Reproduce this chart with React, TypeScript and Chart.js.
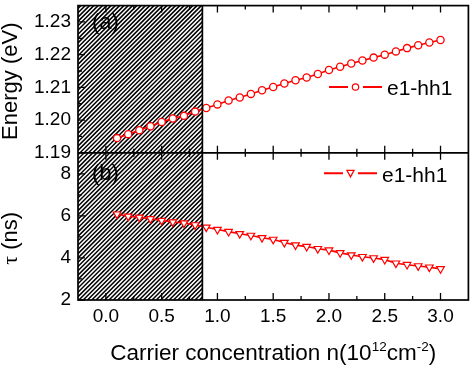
import React, { useEffect, useRef } from 'react';
import { Chart, registerables } from 'chart.js';

Chart.register(...registerables);

// ---- data ----
const carrierN = [0.1, 0.2, 0.3, 0.4, 0.5, 0.6, 0.7, 0.8, 0.9, 1.0, 1.1, 1.2, 1.3, 1.4, 1.5, 1.6, 1.7, 1.8, 1.9, 2.0, 2.1, 2.2, 2.3, 2.4, 2.5, 2.6, 2.7, 2.8, 2.9, 3.0];
const energyE1HH1 = [1.1945, 1.1957, 1.1969, 1.1981, 1.1994, 1.2005, 1.2013, 1.2026, 1.2037, 1.2048, 1.2060, 1.2069, 1.2080, 1.2091, 1.2101, 1.2112, 1.2122, 1.2130, 1.2141, 1.2153, 1.2163, 1.2173, 1.2182, 1.2191, 1.2200, 1.2210, 1.2220, 1.2229, 1.2237, 1.2245];
const tauE1HH1 = [6.08, 5.98, 5.93, 5.86, 5.78, 5.71, 5.66, 5.57, 5.46, 5.35, 5.25, 5.15, 5.07, 4.96, 4.88, 4.73, 4.61, 4.54, 4.44, 4.37, 4.24, 4.14, 4.06, 4.00, 3.92, 3.75, 3.68, 3.62, 3.56, 3.48];

const xMajorTicks = [0, 0.5, 1.0, 1.5, 2.0, 2.5, 3.0];
const xMinorTicks = [0.25, 0.75, 1.25, 1.75, 2.25, 2.75];
const energyTicks = [1.19, 1.2, 1.21, 1.22, 1.23];
const energyMinorTicks = [1.195, 1.205, 1.215, 1.225];
const tauTicks = [2, 4, 6, 8];
const tauMinorTicks = [3, 5, 7];

const xRange = [-0.25, 3.25];
const energyRange = [1.19, 1.235];
const tauRange = [2, 9];
const shadedUntil = 0.865;

const seriesLabel = 'e1-hh1';
const RED = 'rgb(255,0,0)';
const SANS = "'Liberation Sans', Arial, Helvetica, sans-serif";

const zeroPad = (s: any) => {
  s.paddingTop = 0;
  s.paddingBottom = 0;
  s.paddingLeft = 0;
  s.paddingRight = 0;
};

const decorPlugin = {
  id: 'decor',
  beforeDatasetsDraw(chart: any) {
    const { ctx, chartArea } = chart;
    const xs = chart.scales.x;
    const hx = xs.getPixelForValue(shadedUntil);
    const { left, top, bottom } = chartArea;
    ctx.save();
    ctx.beginPath();
    ctx.rect(left, top, hx - left, bottom - top);
    ctx.clip();
    ctx.strokeStyle = '#000';
    ctx.lineWidth = 1.5;
    const step = 4.3;
    ctx.beginPath();
    for (let c = left + top - 10; c <= hx + bottom + 10; c += step) {
      ctx.moveTo(c - bottom, bottom);
      ctx.lineTo(c - top, top);
    }
    ctx.stroke();
    ctx.restore();
  },
  afterDraw(chart: any) {
    const { ctx, chartArea } = chart;
    const { left, right, top, bottom } = chartArea;
    const xs = chart.scales.x;
    const ye = chart.scales.yE;
    const yt = chart.scales.yT;
    const mid = ye.getPixelForValue(energyRange[0]);
    const hx = xs.getPixelForValue(shadedUntil);

    ctx.save();
    ctx.strokeStyle = '#000';
    // ticks
    ctx.lineWidth = 1.3;
    const MAJ = 7;
    const MIN = 4;
    ctx.beginPath();
    const xt = (v: number, len: number) => {
      const p = xs.getPixelForValue(v);
      ctx.moveTo(p, top); ctx.lineTo(p, top + len);
      ctx.moveTo(p, mid - len); ctx.lineTo(p, mid + len);
      ctx.moveTo(p, bottom); ctx.lineTo(p, bottom - len);
    };
    xMajorTicks.forEach((v) => xt(v, MAJ));
    xMinorTicks.forEach((v) => xt(v, MIN));
    const yTick = (s: any, v: number, len: number) => {
      const p = s.getPixelForValue(v);
      ctx.moveTo(left, p); ctx.lineTo(left + len, p);
    };
    energyTicks.forEach((v) => yTick(ye, v, MAJ));
    energyMinorTicks.forEach((v) => yTick(ye, v, MIN));
    tauTicks.forEach((v) => yTick(yt, v, MAJ));
    tauMinorTicks.forEach((v) => yTick(yt, v, MIN));
    ctx.stroke();

    // frames
    ctx.lineWidth = 1.7;
    ctx.strokeRect(left, top, right - left, bottom - top);
    ctx.beginPath();
    ctx.moveTo(left, mid); ctx.lineTo(right, mid);
    ctx.moveTo(hx, top); ctx.lineTo(hx, bottom);
    ctx.stroke();

    // panel labels
    ctx.fillStyle = '#000';
    ctx.font = `22px ${SANS}`;
    ctx.textAlign = 'left';
    ctx.textBaseline = 'alphabetic';
    ctx.fillText('(a)', left + 14, top + 23);
    ctx.fillText('(b)', left + 14, mid + 27);

    // legends
    const legend = (y: number, textBase: number, marker: 'circle' | 'tri', x0: number) => {
      ctx.strokeStyle = RED;
      ctx.lineWidth = 2;
      ctx.beginPath();
      ctx.moveTo(x0, y); ctx.lineTo(x0 + 19, y);
      ctx.moveTo(x0 + 34, y); ctx.lineTo(x0 + 53, y);
      ctx.stroke();
      ctx.lineWidth = 1.2;
      ctx.fillStyle = '#fff';
      const cx = x0 + 26.5;
      ctx.beginPath();
      if (marker === 'circle') {
        ctx.arc(cx, y, 3.2, 0, Math.PI * 2);
      } else {
        ctx.moveTo(cx - 3.6, y - 3);
        ctx.lineTo(cx + 3.6, y - 3);
        ctx.lineTo(cx, y + 3.6);
        ctx.closePath();
      }
      ctx.fill();
      ctx.stroke();
      ctx.fillStyle = '#000';
      ctx.font = `21px ${SANS}`;
      ctx.textAlign = 'left';
      ctx.textBaseline = 'alphabetic';
      ctx.fillText(seriesLabel, x0 + 58, textBase);
    };
    legend(87, 94.5, 'circle', 329);
    legend(173.3, 181.5, 'tri', 324);

    // y-axis titles
    ctx.fillStyle = '#000';
    ctx.textBaseline = 'alphabetic';
    ctx.textAlign = 'center';
    ctx.save();
    ctx.translate(17, (top + mid) / 2 + 2);
    ctx.rotate(-Math.PI / 2);
    ctx.font = `22px ${SANS}`;
    ctx.fillText('Energy (eV)', 0, 0);
    ctx.restore();

    ctx.save();
    ctx.translate(17, (mid + bottom) / 2 + 12);
    ctx.rotate(-Math.PI / 2);
    ctx.font = `22px 'Liberation Serif', 'DejaVu Serif', serif`;
    const tauW = ctx.measureText('τ').width;
    ctx.font = `22px ${SANS}`;
    const restW = ctx.measureText(' (ns)').width;
    const tot = tauW + restW;
    ctx.textAlign = 'left';
    ctx.font = `22px 'Liberation Serif', 'DejaVu Serif', serif`;
    ctx.fillText('τ', -tot / 2, 0);
    ctx.font = `22px ${SANS}`;
    ctx.fillText(' (ns)', -tot / 2 + tauW, 0);
    ctx.restore();

    // x-axis title with superscripts
    const parts: [string, boolean][] = [
      ['Carrier concentration n(10', false],
      ['12', true],
      ['cm', false],
      ['-2', true],
      [')', false],
    ];
    const big = `22.5px ${SANS}`;
    const small = `13.5px ${SANS}`;
    let total = 0;
    const widths = parts.map(([t, sup]) => {
      ctx.font = sup ? small : big;
      const w = ctx.measureText(t).width;
      total += w;
      return w;
    });
    let x = (left + right) / 2 - total / 2;
    const base = 360;
    ctx.textAlign = 'left';
    parts.forEach(([t, sup], i) => {
      ctx.font = sup ? small : big;
      ctx.fillText(t, x, sup ? base - 9 : base);
      x += widths[i];
    });
    ctx.restore();
  },
};

export default function App() {
  const ref = useRef<HTMLCanvasElement | null>(null);
  useEffect(() => {
    document.body.style.margin = '0';
    const canvas = ref.current;
    if (!canvas) return;
    const tickFont = { family: SANS, size: 19 };
    const chart = new Chart(canvas, {
      type: 'line',
      data: {
        datasets: [
          {
            label: seriesLabel,
            data: carrierN.map((n, i) => ({ x: n, y: energyE1HH1[i] })),
            yAxisID: 'yE',
            borderColor: RED,
            backgroundColor: '#fff',
            borderWidth: 1.6,
            pointStyle: 'circle',
            pointRadius: 3.6,
            pointBorderWidth: 1.3,
            pointBackgroundColor: '#fff',
            pointBorderColor: RED,
            tension: 0,
          },
          {
            label: seriesLabel,
            data: carrierN.map((n, i) => ({ x: n, y: tauE1HH1[i] })),
            yAxisID: 'yT',
            borderColor: RED,
            backgroundColor: '#fff',
            borderWidth: 1.6,
            pointStyle: 'triangle',
            rotation: 180,
            pointRadius: 4.4,
            pointBorderWidth: 1.2,
            pointBackgroundColor: '#fff',
            pointBorderColor: RED,
            tension: 0,
          },
        ],
      } as any,
      options: {
        responsive: false,
        devicePixelRatio: 1,
        animation: false,
        events: [],
        layout: { padding: { top: 1, right: 3, left: 0, bottom: 0 } },
        plugins: { legend: { display: false }, tooltip: { enabled: false }, title: { display: false } },
        scales: {
          x: {
            type: 'linear',
            min: xRange[0],
            max: xRange[1],
            afterBuildTicks: (s: any) => { s.ticks = xMajorTicks.map((v) => ({ value: v })); },
            afterFit: (s: any) => { s.height = 65; zeroPad(s); },
            ticks: {
              font: tickFont,
              color: '#000',
              padding: 5,
              maxRotation: 0,
              autoSkip: false,
              callback: (v: any) => Number(v).toFixed(1),
            },
            grid: { display: false, drawTicks: false },
            border: { display: false },
          },
          yT: {
            type: 'linear',
            position: 'left',
            stack: 'panels',
            stackWeight: 1,
            min: tauRange[0],
            max: tauRange[1],
            afterBuildTicks: (s: any) => { s.ticks = tauTicks.map((v) => ({ value: v })); },
            afterFit: (s: any) => { s.width = 78; zeroPad(s); },
            ticks: { font: tickFont, color: '#000', padding: 7, autoSkip: false, callback: (v: any) => String(v) },
            grid: { display: false, drawTicks: false },
            border: { display: false },
          },
          yE: {
            type: 'linear',
            position: 'left',
            stack: 'panels',
            stackWeight: 1,
            min: energyRange[0],
            max: energyRange[1],
            afterBuildTicks: (s: any) => { s.ticks = energyTicks.map((v) => ({ value: v })); },
            afterFit: (s: any) => { s.width = 78; zeroPad(s); },
            ticks: { font: tickFont, color: '#000', padding: 7, autoSkip: false, callback: (v: any) => Number(v).toFixed(2) },
            grid: { display: false, drawTicks: false },
            border: { display: false },
          },
        },
      } as any,
      plugins: [decorPlugin],
    });
    return () => chart.destroy();
  }, []);
  return (
    <div style={{ width: 474, height: 365 }}>
      <canvas ref={ref} width={474} height={365} style={{ display: 'block' }} />
    </div>
  );
}
